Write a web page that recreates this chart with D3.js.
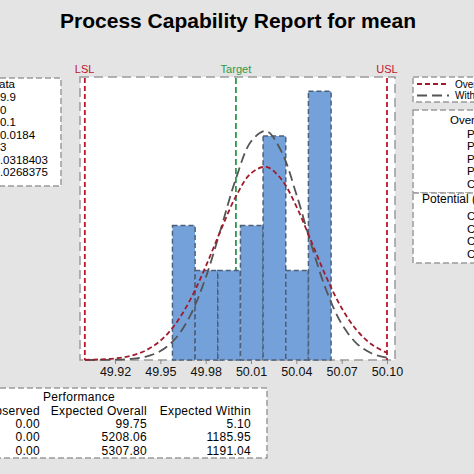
<!DOCTYPE html>
<html>
<head>
<meta charset="utf-8">
<script src="https://cdn.jsdelivr.net/npm/d3@7"></script>
<style>
  body { margin: 0; background: #e4e4e4; }
  text { font-family: "Liberation Sans", Arial, sans-serif; }
</style>
</head>
<body>
<svg id="chart" width="474" height="474"></svg>
<script>
// histogram bins (edges) and counts
var binEdges = [49.958, 49.973, 49.988, 50.003, 50.018, 50.033, 50.048, 50.063];
var binCounts = [3, 2, 2, 3, 5, 2, 6];

// fitted curves, heights in counts
var curveX = [49.90, 49.91, 49.92, 49.93, 49.94, 49.95, 49.96, 49.97, 49.98, 49.99, 50.00,
              50.01, 50.02, 50.03, 50.04, 50.05, 50.06, 50.07, 50.08, 50.09, 50.10];
var overallY = [0.004, 0.013, 0.036, 0.091, 0.208, 0.430, 0.803, 1.360, 2.087, 2.899, 3.652,
                4.168, 4.310, 4.039, 3.430, 2.636, 1.837, 1.160, 0.664, 0.344, 0.161];
var withinY = [0.000, 0.001, 0.006, 0.023, 0.072, 0.199, 0.480, 1.007, 1.839, 2.925, 4.047,
               4.876, 5.111, 4.664, 3.703, 2.561, 1.540, 0.807, 0.367, 0.145, 0.050];

var tickValues = [49.92, 49.95, 49.98, 50.01, 50.04, 50.07, 50.10];
var specNames = ["LSL", "Target", "USL"];
var specValues = [49.9, 50.0, 50.1];

var processLabels = ["LSL", "Target", "USL", "Sample Mean", "Sample N", "StDev(Overall)", "StDev(Within)"];
var processValues = ["49.9", "50", "50.1", "50.0184", "23", "0.0318403", "0.0268375"];

var overallLabels = ["Pp", "PPL", "PPU", "Ppk", "Cpm"];
var potentialLabels = ["Cp", "CPL", "CPU", "Cpk"];

var perfRows = ["PPM < LSL", "PPM > USL", "PPM Total"];
var perfObserved = ["0.00", "0.00", "0.00"];
var perfOverall = ["99.75", "5208.06", "5307.80"];
var perfWithin = ["5.10", "1185.95", "1191.04"];

var svg = d3.select("#chart");
var plot = {left: 80, right: 395, top: 77, bottom: 360};

var x = d3.scaleLinear().domain([49.8968, 50.1053]).range([plot.left, plot.right]);
var y = d3.scaleLinear().domain([0, 6.317]).range([plot.bottom, plot.top]);

svg.append("rect").attr("width", 474).attr("height", 474).attr("fill", "#e4e4e4");

// title
svg.append("text")
    .attr("x", 238).attr("y", 28)
    .attr("text-anchor", "middle")
    .style("font-size", "21px").style("font-weight", "bold")
    .text("Process Capability Report for mean");

// plot area
svg.append("rect")
    .attr("x", plot.left).attr("y", plot.top)
    .attr("width", plot.right - plot.left).attr("height", plot.bottom - plot.top)
    .attr("fill", "#fff")
    .attr("stroke", "#9a9a9a").attr("stroke-width", 1.5).attr("stroke-dasharray", "9,5");

// spec lines (target below bars)
var specColors = ["#c0142b", "#2a9a48", "#c0142b"];
svg.selectAll(".spec")
    .data(specValues)
    .enter().append("line")
    .attr("class", "spec")
    .attr("x1", function(d) { return x(d); })
    .attr("x2", function(d) { return x(d); })
    .attr("y1", plot.top + 1).attr("y2", plot.bottom)
    .attr("stroke", function(d, i) { return specColors[i]; })
    .attr("stroke-width", 1.8)
    .attr("stroke-dasharray", function(d, i) { return i == 1 ? "6,3" : "5,3"; });

svg.selectAll(".specLabel")
    .data(specNames)
    .enter().append("text")
    .attr("x", function(d, i) { return x(specValues[i]); })
    .attr("y", 73)
    .attr("text-anchor", function(d, i) { return i == 0 ? "start" : "middle"; })
    .attr("dx", function(d, i) { return i == 0 ? -10 : 0; })
    .attr("fill", function(d, i) { return specColors[i]; })
    .style("font-size", "11px")
    .text(function(d) { return d; });

// bars
svg.selectAll(".bar")
    .data(binCounts)
    .enter().append("rect")
    .attr("class", "bar")
    .attr("x", function(d, i) { return x(binEdges[i]); })
    .attr("width", function(d, i) { return x(binEdges[i + 1]) - x(binEdges[i]); })
    .attr("y", function(d) { return y(d); })
    .attr("height", function(d) { return y(0) - y(d); })
    .attr("fill", "#74a1da")
    .attr("stroke", "#4c5f78").attr("stroke-width", 1.5).attr("stroke-dasharray", "5,3");

// fitted curves
var line = d3.line().curve(d3.curveCatmullRom)
    .x(function(d, i) { return x(curveX[i]); });

svg.append("path")
    .datum(withinY)
    .attr("d", line.y(function(d) { return y(d); }))
    .attr("fill", "none").attr("stroke", "#555").attr("stroke-width", 1.8)
    .attr("stroke-dasharray", "10,5");

svg.append("path")
    .datum(overallY)
    .attr("d", line.y(function(d) { return y(d); }))
    .attr("fill", "none").attr("stroke", "#a01c2c").attr("stroke-width", 1.8)
    .attr("stroke-dasharray", "5,3");

// x axis
var xAxis = svg.append("g")
    .attr("transform", "translate(0," + plot.bottom + ")")
    .call(d3.axisBottom(x).tickValues(tickValues).tickSize(4).tickPadding(3)
        .tickFormat(d3.format(".2f")));
xAxis.select(".domain").remove();
xAxis.selectAll("line").attr("stroke", "#888");
xAxis.selectAll("text").style("font-size", "12.5px").style("font-family", "Liberation Sans, Arial, sans-serif")
    .attr("fill", "#111");

// process data panel (left, partly off-page)
svg.append("rect")
    .attr("x", -90).attr("y", 78).attr("width", 151).attr("height", 108)
    .attr("fill", "#fff").attr("stroke", "#9a9a9a").attr("stroke-width", 1.5).attr("stroke-dasharray", "6,3");
svg.append("text").attr("x", 15).attr("y", 88).attr("text-anchor", "end")
    .style("font-size", "11.5px").text("Process Data");
svg.selectAll(".pdLabel").data(processLabels).enter().append("text")
    .attr("x", -85).attr("y", function(d, i) { return 101 + i * 12.5; })
    .style("font-size", "11.5px").text(function(d) { return d; });
svg.selectAll(".pdValue").data(processValues).enter().append("text")
    .attr("x", -6.5).attr("y", function(d, i) { return 101 + i * 12.5; })
    .style("font-size", "11.5px").text(function(d) { return d; });

// legend (right)
svg.append("rect")
    .attr("x", 413).attr("y", 77).attr("width", 100).attr("height", 25)
    .attr("fill", "#fff").attr("stroke", "#9a9a9a").attr("stroke-width", 1.5).attr("stroke-dasharray", "6,3");
var legNames = ["Overall", "Within"];
var legColors = ["#a01c2c", "#555"];
var legDash = ["5,3", "10,5"];
legNames.forEach(function(n, i) {
    svg.append("line").attr("x1", 417).attr("x2", 449)
        .attr("y1", 84 + i * 11.5).attr("y2", 84 + i * 11.5)
        .attr("stroke", legColors[i]).attr("stroke-width", 1.8).attr("stroke-dasharray", legDash[i]);
    svg.append("text").attr("x", 455).attr("y", 87.5 + i * 11.5)
        .style("font-size", "10px").text(n);
});

// overall capability box
svg.append("rect")
    .attr("x", 413).attr("y", 110).attr("width", 100).attr("height", 83)
    .attr("fill", "#fff").attr("stroke", "#9a9a9a").attr("stroke-width", 1.5).attr("stroke-dasharray", "6,3");
svg.append("text").attr("x", 450).attr("y", 124).style("font-size", "11.5px").text("Overall Capability");
svg.selectAll(".ovLabel").data(overallLabels).enter().append("text")
    .attr("x", 467).attr("y", function(d, i) { return 137.5 + i * 12.5; })
    .style("font-size", "11.5px").text(function(d) { return d; });

// potential capability box
svg.append("rect")
    .attr("x", 413).attr("y", 193).attr("width", 100).attr("height", 70)
    .attr("fill", "#fff").attr("stroke", "#9a9a9a").attr("stroke-width", 1.5).attr("stroke-dasharray", "6,3");
svg.append("text").attr("x", 422).attr("y", 203).style("font-size", "12px").text("Potential (Within) Capability");
svg.selectAll(".poLabel").data(potentialLabels).enter().append("text")
    .attr("x", 467).attr("y", function(d, i) { return 220 + i * 12.5; })
    .style("font-size", "11.5px").text(function(d) { return d; });

// performance table (bottom)
svg.append("rect")
    .attr("x", -90).attr("y", 388).attr("width", 357).attr("height", 70)
    .attr("fill", "#fff").attr("stroke", "#9a9a9a").attr("stroke-width", 1.5).attr("stroke-dasharray", "6,3");
svg.append("text").attr("x", 79).attr("y", 401).attr("text-anchor", "middle")
    .style("font-size", "12px").style("letter-spacing", "0.3px").text("Performance");
var colRight = [40, 147, 251];
var colHeads = ["Observed", "Expected Overall", "Expected Within"];
colHeads.forEach(function(h, j) {
    svg.append("text").attr("x", colRight[j]).attr("y", 415).attr("text-anchor", "end")
        .style("font-size", "12px").style("letter-spacing", "0.3px").text(h);
});
var perfCols = [perfObserved, perfOverall, perfWithin];
perfRows.forEach(function(r, i) {
    svg.append("text").attr("x", -85).attr("y", 428 + i * 13.3).style("font-size", "12px").text(r);
    perfCols.forEach(function(col, j) {
        svg.append("text").attr("x", colRight[j]).attr("y", 428 + i * 13.3).attr("text-anchor", "end")
            .style("font-size", "12px").style("letter-spacing", "0.3px").text(col[i]);
    });
});
</script>
</body>
</html>
